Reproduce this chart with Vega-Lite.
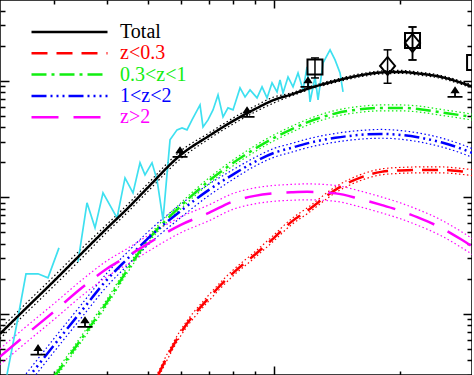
{
  "$schema": "https://vega.github.io/schema/vega-lite/v6.json",
  "width": 472,
  "height": 375,
  "padding": 0,
  "autosize": "none",
  "config": {
    "view": {"stroke": "black", "strokeWidth": 1.5},
    "font": "Liberation Serif",
    "legend": {"orient": "none", "legendX": 30, "legendY": 24, "title": null, "symbolType": "stroke", "symbolSize": 5776, "symbolStrokeWidth": 2.5, "clipHeight": 16, "rowPadding": 1.3, "padding": 0, "labelFont": "Liberation Serif", "labelFontSize": 20, "labelOffset": 11, "labelLimit": 0}
  },
  "datasets": {
    "curves": [
      {"series":"Total","x":22.27,"y":0.0673,"lo":0.0612,"hi":0.074},
      {"series":"Total","x":25,"y":0.1014,"lo":0.0922,"hi":0.1115},
      {"series":"Total","x":30,"y":0.1926,"lo":0.1751,"hi":0.2119},
      {"series":"Total","x":35,"y":0.3357,"lo":0.305,"hi":0.369},
      {"series":"Total","x":40,"y":0.542,"lo":0.502,"hi":0.585},
      {"series":"Total","x":45,"y":0.816,"lo":0.756,"hi":0.881},
      {"series":"Total","x":50,"y":1.207,"lo":1.118,"hi":1.304},
      {"series":"Total","x":60,"y":2.32,"lo":2.15,"hi":2.51},
      {"series":"Total","x":70,"y":3.37,"lo":3.18,"hi":3.57},
      {"series":"Total","x":80,"y":4.54,"lo":4.28,"hi":4.81},
      {"series":"Total","x":90,"y":5.72,"lo":5.4,"hi":6.07},
      {"series":"Total","x":100,"y":6.87,"lo":6.48,"hi":7.28},
      {"series":"Total","x":110,"y":7.66,"lo":7.44,"hi":7.89},
      {"series":"Total","x":120,"y":8.54,"lo":8.29,"hi":8.8},
      {"series":"Total","x":140,"y":10.0,"lo":9.71,"hi":10.3},
      {"series":"Total","x":160,"y":11.15,"lo":10.83,"hi":11.48},
      {"series":"Total","x":180,"y":11.83,"lo":11.49,"hi":12.18},
      {"series":"Total","x":200,"y":11.95,"lo":11.6,"hi":12.31},
      {"series":"Total","x":220,"y":11.6,"lo":11.26,"hi":11.95},
      {"series":"Total","x":250,"y":10.82,"lo":10.5,"hi":11.14},
      {"series":"Total","x":280,"y":9.61,"lo":9.33,"hi":9.9},
      {"series":"Total","x":300,"y":8.79,"lo":8.53,"hi":9.05},

      {"series":"z<0.3","x":50,"y":0.019,"lo":0.0179,"hi":0.0201},
      {"series":"z<0.3","x":60,"y":0.0687,"lo":0.0648,"hi":0.0728},
      {"series":"z<0.3","x":70,"y":0.1372,"lo":0.1294,"hi":0.1454},
      {"series":"z<0.3","x":80,"y":0.2248,"lo":0.2121,"hi":0.2383},
      {"series":"z<0.3","x":90,"y":0.321,"lo":0.303,"hi":0.34},
      {"series":"z<0.3","x":100,"y":0.449,"lo":0.424,"hi":0.476},
      {"series":"z<0.3","x":110,"y":0.616,"lo":0.581,"hi":0.653},
      {"series":"z<0.3","x":120,"y":0.766,"lo":0.723,"hi":0.812},
      {"series":"z<0.3","x":140,"y":1.16,"lo":1.094,"hi":1.23},
      {"series":"z<0.3","x":160,"y":1.47,"lo":1.387,"hi":1.558},
      {"series":"z<0.3","x":180,"y":1.655,"lo":1.561,"hi":1.754},
      {"series":"z<0.3","x":200,"y":1.705,"lo":1.608,"hi":1.807},
      {"series":"z<0.3","x":220,"y":1.722,"lo":1.625,"hi":1.825},
      {"series":"z<0.3","x":250,"y":1.722,"lo":1.625,"hi":1.825},
      {"series":"z<0.3","x":280,"y":1.67,"lo":1.575,"hi":1.77},
      {"series":"z<0.3","x":300,"y":1.623,"lo":1.531,"hi":1.72},

      {"series":"0.3<z<1","x":30,"y":0.0288,"lo":0.0272,"hi":0.0305},
      {"series":"0.3<z<1","x":35,"y":0.0627,"lo":0.0592,"hi":0.0665},
      {"series":"0.3<z<1","x":40,"y":0.1253,"lo":0.1182,"hi":0.1328},
      {"series":"0.3<z<1","x":45,"y":0.245,"lo":0.231,"hi":0.26},
      {"series":"0.3<z<1","x":50,"y":0.4235,"lo":0.4,"hi":0.449},
      {"series":"0.3<z<1","x":60,"y":0.845,"lo":0.797,"hi":0.896},
      {"series":"0.3<z<1","x":70,"y":1.385,"lo":1.307,"hi":1.468},
      {"series":"0.3<z<1","x":80,"y":1.98,"lo":1.87,"hi":2.1},
      {"series":"0.3<z<1","x":90,"y":2.61,"lo":2.46,"hi":2.77},
      {"series":"0.3<z<1","x":100,"y":3.245,"lo":3.06,"hi":3.44},
      {"series":"0.3<z<1","x":110,"y":3.84,"lo":3.62,"hi":4.07},
      {"series":"0.3<z<1","x":120,"y":4.41,"lo":4.16,"hi":4.67},
      {"series":"0.3<z<1","x":140,"y":5.26,"lo":4.96,"hi":5.58},
      {"series":"0.3<z<1","x":160,"y":5.7,"lo":5.38,"hi":6.04},
      {"series":"0.3<z<1","x":180,"y":5.87,"lo":5.54,"hi":6.22},
      {"series":"0.3<z<1","x":200,"y":5.87,"lo":5.54,"hi":6.22},
      {"series":"0.3<z<1","x":220,"y":5.75,"lo":5.42,"hi":6.1},
      {"series":"0.3<z<1","x":250,"y":5.37,"lo":5.07,"hi":5.69},
      {"series":"0.3<z<1","x":280,"y":5.06,"lo":4.77,"hi":5.36},
      {"series":"0.3<z<1","x":300,"y":4.86,"lo":4.58,"hi":5.15},

      {"series":"1<z<2","x":25,"y":0.0236,"lo":0.0207,"hi":0.0269},
      {"series":"1<z<2","x":30,"y":0.0542,"lo":0.0475,"hi":0.0618},
      {"series":"1<z<2","x":35,"y":0.1082,"lo":0.0949,"hi":0.1233},
      {"series":"1<z<2","x":40,"y":0.1957,"lo":0.1717,"hi":0.2231},
      {"series":"1<z<2","x":45,"y":0.302,"lo":0.265,"hi":0.344},
      {"series":"1<z<2","x":50,"y":0.4405,"lo":0.386,"hi":0.502},
      {"series":"1<z<2","x":60,"y":0.766,"lo":0.672,"hi":0.873},
      {"series":"1<z<2","x":70,"y":1.16,"lo":1.036,"hi":1.299},
      {"series":"1<z<2","x":80,"y":1.576,"lo":1.433,"hi":1.734},
      {"series":"1<z<2","x":90,"y":2.018,"lo":1.851,"hi":2.2},
      {"series":"1<z<2","x":100,"y":2.41,"lo":2.21,"hi":2.63},
      {"series":"1<z<2","x":110,"y":2.66,"lo":2.44,"hi":2.9},
      {"series":"1<z<2","x":120,"y":2.91,"lo":2.67,"hi":3.17},
      {"series":"1<z<2","x":140,"y":3.245,"lo":2.98,"hi":3.54},
      {"series":"1<z<2","x":160,"y":3.44,"lo":3.16,"hi":3.75},
      {"series":"1<z<2","x":180,"y":3.51,"lo":3.22,"hi":3.83},
      {"series":"1<z<2","x":200,"y":3.44,"lo":3.16,"hi":3.75},
      {"series":"1<z<2","x":220,"y":3.28,"lo":3.01,"hi":3.58},
      {"series":"1<z<2","x":250,"y":2.97,"lo":2.72,"hi":3.24},
      {"series":"1<z<2","x":280,"y":2.61,"lo":2.39,"hi":2.84},
      {"series":"1<z<2","x":300,"y":2.37,"lo":2.17,"hi":2.58},

      {"series":"z>2","x":22.27,"y":0.0428,"lo":0.0366,"hi":0.0501},
      {"series":"z>2","x":25,"y":0.061,"lo":0.0521,"hi":0.0714},
      {"series":"z>2","x":30,"y":0.1051,"lo":0.0898,"hi":0.123},
      {"series":"z>2","x":35,"y":0.1687,"lo":0.1442,"hi":0.197},
      {"series":"z>2","x":40,"y":0.2433,"lo":0.208,"hi":0.285},
      {"series":"z>2","x":45,"y":0.3144,"lo":0.269,"hi":0.368},
      {"series":"z>2","x":50,"y":0.399,"lo":0.341,"hi":0.467},
      {"series":"z>2","x":60,"y":0.581,"lo":0.497,"hi":0.68},
      {"series":"z>2","x":70,"y":0.736,"lo":0.629,"hi":0.861},
      {"series":"z>2","x":80,"y":0.925,"lo":0.791,"hi":1.082},
      {"series":"z>2","x":90,"y":1.03,"lo":0.88,"hi":1.205},
      {"series":"z>2","x":100,"y":1.082,"lo":0.925,"hi":1.266},
      {"series":"z>2","x":110,"y":1.104,"lo":0.944,"hi":1.292},
      {"series":"z>2","x":120,"y":1.115,"lo":0.953,"hi":1.305},
      {"series":"z>2","x":140,"y":1.082,"lo":0.925,"hi":1.266},
      {"series":"z>2","x":160,"y":0.971,"lo":0.83,"hi":1.136},
      {"series":"z>2","x":180,"y":0.862,"lo":0.737,"hi":1.009},
      {"series":"z>2","x":200,"y":0.766,"lo":0.655,"hi":0.896},
      {"series":"z>2","x":220,"y":0.673,"lo":0.575,"hi":0.787},
      {"series":"z>2","x":250,"y":0.547,"lo":0.468,"hi":0.64},
      {"series":"z>2","x":280,"y":0.432,"lo":0.369,"hi":0.505},
      {"series":"z>2","x":300,"y":0.3685,"lo":0.315,"hi":0.431}
    ],
    "cyan": [
      {"seg":"a","x":23.14,"y":0.03},
      {"seg":"a","x":24.45,"y":0.0837},
      {"seg":"a","x":25.68,"y":0.2204},
      {"seg":"a","x":27.43,"y":0.2204},
      {"seg":"a","x":28.97,"y":0.2035},
      {"seg":"a","x":30.77,"y":0.3683},
      {"seg":"b","x":34.15,"y":0.2794},
      {"seg":"b","x":35.88,"y":0.897},
      {"seg":"b","x":37.49,"y":0.547},
      {"seg":"b","x":39.17,"y":1.093},
      {"seg":"b","x":42.3,"y":0.667},
      {"seg":"b","x":44.19,"y":1.47},
      {"seg":"b","x":46.17,"y":1.093},
      {"seg":"b","x":47.98,"y":1.979},
      {"seg":"b","x":49.31,"y":1.56},
      {"seg":"b","x":51.24,"y":1.979},
      {"seg":"b","x":52.67,"y":1.413},
      {"seg":"b","x":54.43,"y":0.641},
      {"seg":"b","x":56.56,"y":3.12},
      {"seg":"b","x":58.77,"y":3.8},
      {"seg":"b","x":60.41,"y":3.953},
      {"seg":"b","x":62.08,"y":3.8},
      {"seg":"b","x":63.81,"y":4.63},
      {"seg":"b","x":66.67,"y":6.224},
      {"seg":"b","x":67.77,"y":4.03},
      {"seg":"b","x":69.66,"y":4.63},
      {"seg":"b","x":71.59,"y":5.64},
      {"seg":"b","x":73.58,"y":7.583},
      {"seg":"b","x":75.63,"y":4.913},
      {"seg":"b","x":77.73,"y":5.868},
      {"seg":"b","x":79.89,"y":5.64},
      {"seg":"b","x":83.02,"y":8.708},
      {"seg":"b","x":85.33,"y":7.291},
      {"seg":"b","x":87.7,"y":8.37},
      {"seg":"b","x":91.13,"y":7.148},
      {"seg":"b","x":93.66,"y":8.887},
      {"seg":"b","x":96.26,"y":7.148},
      {"seg":"b","x":98.94,"y":9.609},
      {"seg":"b","x":101.69,"y":8.045},
      {"seg":"b","x":103.37,"y":10.2},
      {"seg":"b","x":105.09,"y":7.887},
      {"seg":"b","x":108.01,"y":10.825},
      {"seg":"b","x":111.01,"y":8.887},
      {"seg":"b","x":114.09,"y":11.713},
      {"seg":"b","x":117.27,"y":8.37},
      {"seg":"b","x":119.87,"y":13.19},
      {"seg":"b","x":121.86,"y":6.603},
      {"seg":"b","x":125.24,"y":10.825},
      {"seg":"b","x":127.32,"y":6.87},
      {"seg":"b","x":130.86,"y":14.28},
      {"seg":"b","x":135.98,"y":18.5},
      {"seg":"b","x":139.76,"y":15.15},
      {"seg":"b","x":143.64,"y":11.713},
      {"seg":"b","x":146.02,"y":8.045}
    ],
    "points": [
      {"kind":"square","x":125.2,"y":13.19,"ylo":10.61,"yhi":15.76},
      {"kind":"square","x":213.7,"y":22.28,"ylo":15.15,"yhi":29.08},
      {"kind":"square","x":300.3,"y":14.43,"ylo":12.43,"yhi":16.76},
      {"kind":"diamond","x":186.4,"y":13.45,"ylo":9.55,"yhi":18.5},
      {"kind":"diamond","x":213.7,"y":21.2,"ylo":15.15,"yhi":29.08}
    ],
    "limits": [
      {"x":27.43,"y":0.0445},
      {"x":35.49,"y":0.0773},
      {"x":59.75,"y":2.228},
      {"x":86.27,"y":4.913},
      {"x":120.5,"y":8.887},
      {"x":269.8,"y":7.291}
    ]
  },
  "layer": [
    {
      "data": {"name": "curves"},
      "mark": {"type": "line", "interpolate": "monotone", "strokeWidth": 1.2, "strokeDash": [1.5, 2.5], "clip": true},
      "encoding": {
        "x": {"field": "x", "type": "quantitative", "scale": {"type": "log", "domain": [22.27, 296.1], "nice": false},
              "axis": {"orient": "bottom", "values": [100], "tickSize": -9, "labels": false, "domain": false, "grid": false, "title": null, "tickColor": "black", "tickWidth": 1.5}},
        "y": {"field": "hi", "type": "quantitative", "scale": {"type": "log", "domain": [0.02979, 49.58], "nice": false},
              "axis": {"orient": "left", "values": [0.1, 1, 10], "tickSize": -9, "labels": false, "domain": false, "grid": false, "title": null, "tickColor": "black", "tickWidth": 1.5}},
        "color": {"field": "series", "type": "nominal",
                  "scale": {"domain": ["Total", "z<0.3", "0.3<z<1", "1<z<2", "z>2"], "range": ["#000000", "#ff0000", "#11ee11", "#0000ff", "#ff00ff"]}},
        "detail": {"field": "series"}
      }
    },
    {
      "data": {"name": "curves"},
      "mark": {"type": "line", "interpolate": "monotone", "strokeWidth": 1.2, "strokeDash": [1.5, 2.5], "clip": true},
      "encoding": {
        "x": {"field": "x", "type": "quantitative", "scale": {"type": "log", "domain": [22.27, 296.1], "nice": false},
              "axis": {"orient": "top", "values": [100], "tickSize": -8, "labels": false, "domain": false, "grid": false, "title": null, "tickColor": "black", "tickWidth": 1.5}},
        "y": {"field": "lo", "type": "quantitative", "scale": {"type": "log", "domain": [0.02979, 49.58], "nice": false},
              "axis": {"orient": "right", "values": [0.1, 1, 10], "tickSize": -9, "labels": false, "domain": false, "grid": false, "title": null, "tickColor": "black", "tickWidth": 1.5}},
        "color": {"field": "series", "type": "nominal",
                  "scale": {"domain": ["Total", "z<0.3", "0.3<z<1", "1<z<2", "z>2"], "range": ["#000000", "#ff0000", "#11ee11", "#0000ff", "#ff00ff"]}},
        "detail": {"field": "series"}
      }
    },
    {
      "data": {"name": "cyan"},
      "mark": {"type": "line", "color": "#3ee0f0", "strokeWidth": 1.7, "clip": true},
      "encoding": {
        "x": {"field": "x", "type": "quantitative", "scale": {"type": "log", "domain": [22.27, 296.1], "nice": false},
              "axis": {"orient": "top", "values": [30, 40, 50, 60, 70, 80, 90, 200], "tickSize": -4, "labels": false, "domain": false, "grid": false, "title": null, "tickColor": "black", "tickWidth": 1.5}},
        "y": {"field": "y", "type": "quantitative", "scale": {"type": "log", "domain": [0.02979, 49.58], "nice": false},
              "axis": {"orient": "right", "values": [0.03, 0.04, 0.05, 0.06, 0.07, 0.08, 0.09, 0.2, 0.3, 0.4, 0.5, 0.6, 0.7, 0.8, 0.9, 2, 3, 4, 5, 6, 7, 8, 9, 20, 30, 40], "tickSize": -5, "labels": false, "domain": false, "grid": false, "title": null, "tickColor": "black", "tickWidth": 1.5}},
        "detail": {"field": "seg"}
      }
    },
    {
      "data": {"name": "curves"},
      "mark": {"type": "line", "interpolate": "monotone", "strokeWidth": 2.5, "clip": true},
      "encoding": {
        "x": {"field": "x", "type": "quantitative", "scale": {"type": "log", "domain": [22.27, 296.1], "nice": false},
              "axis": {"orient": "bottom", "values": [30, 40, 50, 60, 70, 80, 90, 200], "tickSize": -4, "labels": false, "domain": false, "grid": false, "title": null, "tickColor": "black", "tickWidth": 1.5}},
        "y": {"field": "y", "type": "quantitative", "scale": {"type": "log", "domain": [0.02979, 49.58], "nice": false},
              "axis": {"orient": "left", "values": [0.03, 0.04, 0.05, 0.06, 0.07, 0.08, 0.09, 0.2, 0.3, 0.4, 0.5, 0.6, 0.7, 0.8, 0.9, 2, 3, 4, 5, 6, 7, 8, 9, 20, 30, 40], "tickSize": -5, "labels": false, "domain": false, "grid": false, "title": null, "tickColor": "black", "tickWidth": 1.5}},
        "color": {"field": "series", "type": "nominal",
                  "scale": {"domain": ["Total", "z<0.3", "0.3<z<1", "1<z<2", "z>2"], "range": ["#000000", "#ff0000", "#11ee11", "#0000ff", "#ff00ff"]},
                  "legend": {"encode": {"labels": {"update": {"fill": {"scale": "color", "field": "value"}}}}}},
        "strokeDash": {"field": "series", "type": "nominal",
                       "scale": {"domain": ["Total", "z<0.3", "0.3<z<1", "1<z<2", "z>2"], "range": [[1, 0], [16, 9], [15, 5, 3, 5], [15, 4, 2, 4, 2, 4, 2, 4], [27, 15]]}}
      }
    },
    {
      "data": {"name": "points"},
      "mark": {"type": "rule", "color": "black", "strokeWidth": 1.5},
      "encoding": {
        "x": {"field": "x", "type": "quantitative", "scale": {"type": "log", "domain": [22.27, 296.1], "nice": false}, "axis": null},
        "y": {"field": "ylo", "type": "quantitative", "scale": {"type": "log", "domain": [0.02979, 49.58], "nice": false}, "axis": null},
        "y2": {"field": "yhi"}
      }
    },
    {
      "data": {"name": "points"},
      "mark": {"type": "point", "shape": "stroke", "size": 64, "color": "black", "strokeWidth": 1.5, "opacity": 1},
      "encoding": {
        "x": {"field": "x", "type": "quantitative", "scale": {"type": "log", "domain": [22.27, 296.1], "nice": false}, "axis": null},
        "y": {"field": "ylo", "type": "quantitative", "scale": {"type": "log", "domain": [0.02979, 49.58], "nice": false}, "axis": null}
      }
    },
    {
      "data": {"name": "points"},
      "mark": {"type": "point", "shape": "stroke", "size": 64, "color": "black", "strokeWidth": 1.5, "opacity": 1},
      "encoding": {
        "x": {"field": "x", "type": "quantitative", "scale": {"type": "log", "domain": [22.27, 296.1], "nice": false}, "axis": null},
        "y": {"field": "yhi", "type": "quantitative", "scale": {"type": "log", "domain": [0.02979, 49.58], "nice": false}, "axis": null}
      }
    },
    {
      "data": {"name": "points"},
      "transform": [{"filter": "datum.kind == 'square'"}],
      "mark": {"type": "point", "shape": "square", "size": 225, "color": "black", "strokeWidth": 2, "filled": false, "opacity": 1},
      "encoding": {
        "x": {"field": "x", "type": "quantitative", "scale": {"type": "log", "domain": [22.27, 296.1], "nice": false}, "axis": null},
        "y": {"field": "y", "type": "quantitative", "scale": {"type": "log", "domain": [0.02979, 49.58], "nice": false}, "axis": null}
      }
    },
    {
      "data": {"name": "points"},
      "transform": [{"filter": "datum.kind == 'diamond'"}],
      "mark": {"type": "point", "shape": "M-1,0L0,-1.2L1,0L0,1.2Z", "size": 225, "color": "black", "strokeWidth": 2, "filled": false, "opacity": 1},
      "encoding": {
        "x": {"field": "x", "type": "quantitative", "scale": {"type": "log", "domain": [22.27, 296.1], "nice": false}, "axis": null},
        "y": {"field": "y", "type": "quantitative", "scale": {"type": "log", "domain": [0.02979, 49.58], "nice": false}, "axis": null}
      }
    },
    {
      "data": {"name": "limits"},
      "mark": {"type": "point", "shape": "M-1,0L1,0M0,0L0,-0.8M-0.4,-0.6L0,-1.2L0.4,-0.6Z", "size": 225, "filled": true, "color": "black", "stroke": "black", "strokeWidth": 1.8, "opacity": 1},
      "encoding": {
        "x": {"field": "x", "type": "quantitative", "scale": {"type": "log", "domain": [22.27, 296.1], "nice": false}, "axis": null},
        "y": {"field": "y", "type": "quantitative", "scale": {"type": "log", "domain": [0.02979, 49.58], "nice": false}, "axis": null}
      }
    }
  ],
  "resolve": {"axis": {"x": "independent", "y": "independent"}}
}
